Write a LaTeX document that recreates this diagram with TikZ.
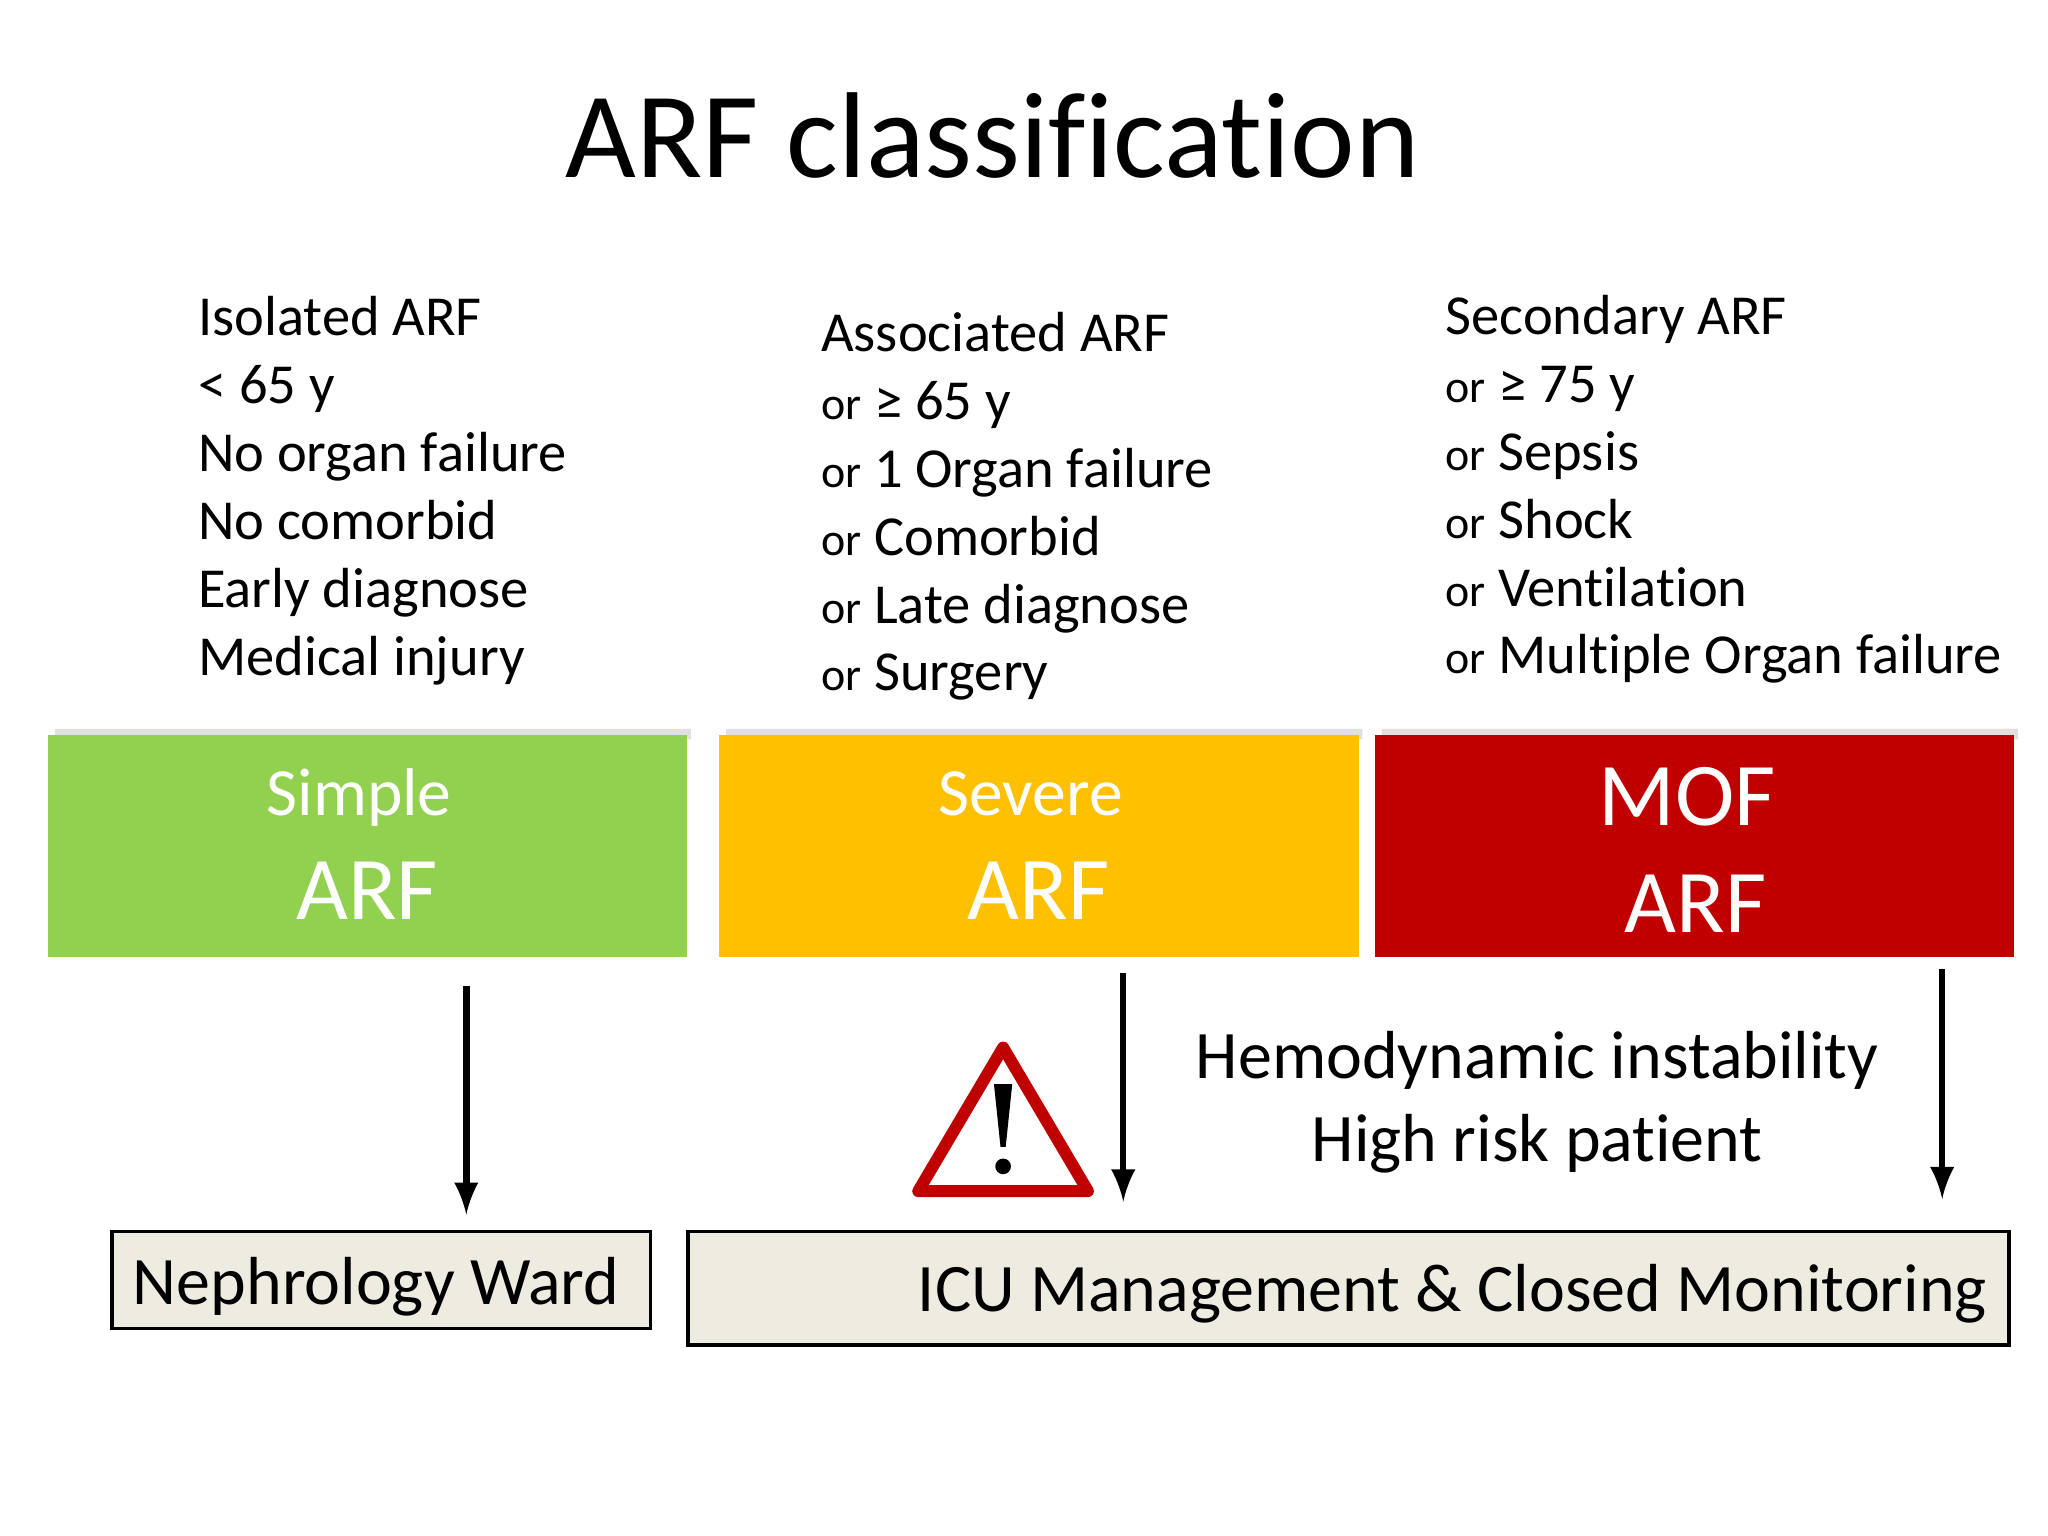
\documentclass[tikz,border=0pt]{standalone}
\usepackage{fontspec}
\setmainfont{Carlito}[RawFeature={-liga;-dlig;-clig;-calt}]
\usetikzlibrary{positioning}
\definecolor{simplegreen}{HTML}{92D050}
\definecolor{severeorange}{HTML}{FFC000}
\definecolor{mofred}{HTML}{C00000}
\definecolor{wardfill}{HTML}{EEECE1}
\newcommand{\orw}{{\fontsize{10pt}{12pt}\selectfont or}}
\begin{document}
\begin{tikzpicture}[x=0.01cm,y=-0.01cm,>=latex,
item/.style ={anchor=base west, inner sep=0pt, font=\fontsize{12.3pt}{15pt}\selectfont},
grade/.style ={rectangle, minimum width=4.89cm, minimum height=1.7cm, inner sep=0pt},
gtext/.style ={text=white, inner sep=0pt},
ward/.style ={rectangle, draw=black, thick, fill=wardfill, inner sep=0pt}
]
\useasboundingbox (0,0) rectangle (1568,1176);
\node[anchor=base, inner sep=0pt, font=\fontsize{26.6pt}{32pt}\selectfont] (T) at (760,136) {ARF classification};
% criteria
\node[item] (L1) at (151,257) {Isolated ARF};
\node[item] (L2) at (151,309) {< 65 y};
\node[item] (L3) at (151,361) {No organ failure};
\node[item] (L4) at (151,413) {No comorbid};
\node[item] (L5) at (151,465) {Early diagnose};
\node[item] (L6) at (151,517) {Medical injury};
\node[item] (M1) at (628,269) {Associated ARF};
\node[item] (M2) at (628,321) {\orw{} ≥ 65 y};
\node[item] (M3) at (628,373) {\orw{} 1 Organ failure};
\node[item] (M4) at (628,425) {\orw{} Comorbid};
\node[item] (M5) at (628,477) {\orw{} Late diagnose};
\node[item] (M6) at (628,529) {\orw{} Surgery};
\node[item] (R1) at (1106,256) {Secondary ARF};
\node[item] (R2) at (1106,308) {\orw{} ≥ 75 y};
\node[item] (R3) at (1106,360) {\orw{} Sepsis};
\node[item] (R4) at (1106,412) {\orw{} Shock};
\node[item] (R5) at (1106,464) {\orw{} Ventilation};
\node[item] (R6) at (1106,516) {\orw{} Multiple Organ failure};
% grades
\fill[black!12] (42,558) rectangle (529,566) (556,558) rectangle (1043,566) (1058,558) rectangle (1545,566);
\node[grade, fill=simplegreen] (S) at (281.5,648) {};
\node[grade, fill=severeorange] (V) at (795.5,648) {};
\node[grade, fill=mofred] (F) at (1297.5,648) {};
\node[gtext, anchor=base, font=\fontsize{14.7pt}{18pt}\selectfont] at (275,624) {Simple};
\node[gtext, anchor=base, font=\fontsize{19.5pt}{24pt}\selectfont] at (281,704) {ARF};
\node[gtext, anchor=base, font=\fontsize{14.7pt}{18pt}\selectfont] at (789,624) {Severe};
\node[gtext, anchor=base, font=\fontsize{19.5pt}{24pt}\selectfont] at (795,704) {ARF};
\node[gtext, anchor=base, font=\fontsize{19.5pt}{24pt}\selectfont] at (1292,632) {MOF};
\node[gtext, anchor=base, font=\fontsize{19.5pt}{24pt}\selectfont] at (1298,714) {ARF};
% destinations
\node[ward, minimum width=4.12cm, minimum height=0.74cm] (N) at (292,980) {};
\node[anchor=base, inner sep=0pt, font=\fontsize{14.8pt}{18pt}\selectfont] at (288,999) {Nephrology Ward};
\node[ward, minimum width=10.11cm, minimum height=0.87cm] (I) at (1032.5,986.5) {};
\node[anchor=base east, inner sep=0pt, font=\fontsize{14.8pt}{18pt}\selectfont] at (1522,1004) {ICU Management \& Closed Monitoring};
\coordinate (a1) at (357,755); \coordinate (b1) at (357,930);
\coordinate (a2) at (860,745); \coordinate (b2) at (860,920);
\coordinate (a3) at (1487,742); \coordinate (b3) at (1487,918);
\draw[->, line width=1.4pt] (a1) -- (b1);
\draw[->, line width=1.4pt] (a2) -- (b2);
\draw[->, line width=1.4pt] (a3) -- (b3);
\node[anchor=base, inner sep=0pt, font=\fontsize{14.8pt}{18pt}\selectfont] (H1) at (1177,826) {Hemodynamic instability};
\node[anchor=base, inner sep=0pt, font=\fontsize{14.8pt}{18pt}\selectfont] (H2) at (1177,889) {High risk patient};
% warning sign
\draw[mofred, line width=2.6pt, line join=round, fill=white] (768,802) -- (833,912) -- (703,912) -- cycle;
\fill[black] (761,830) -- (775,830) -- (770,878) -- (766,878) -- cycle;
\fill[black] (768,893) circle (6);
\end{tikzpicture}
\end{document}
